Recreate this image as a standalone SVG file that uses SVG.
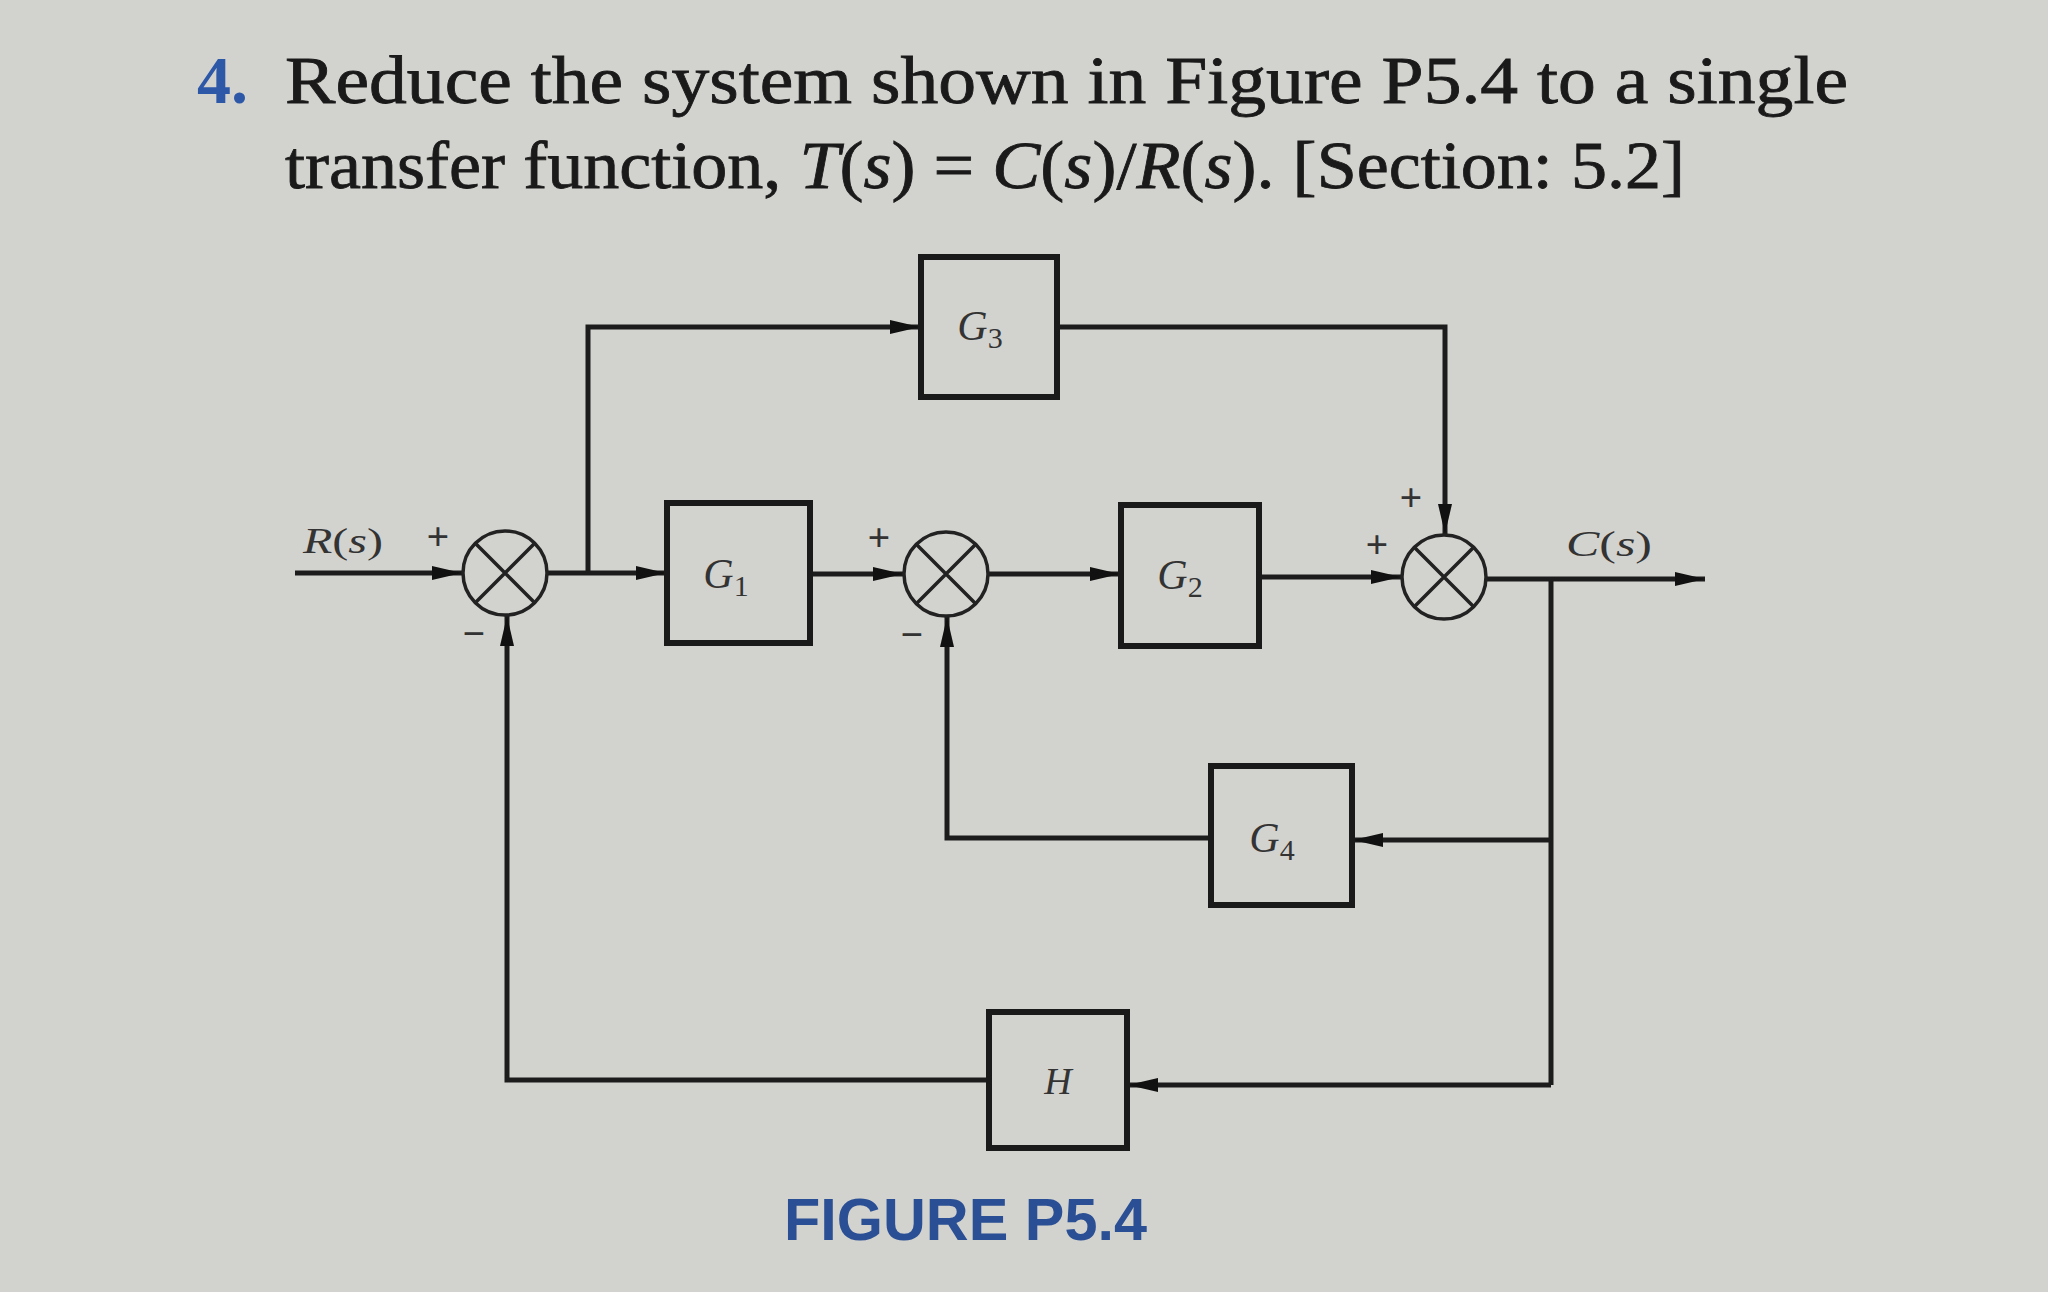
<svg xmlns="http://www.w3.org/2000/svg" width="2048" height="1292" viewBox="0 0 2048 1292">
  <style>
    .wire { fill: none; stroke: #1c1c1c; stroke-width: 5; }
    .box { fill: none; stroke: #1a1a1a; stroke-width: 6; }
    .sum { fill: none; stroke: #222; stroke-width: 3.5; }
    .title { font-family: "Liberation Serif", "Times New Roman", serif; font-size: 68px; fill: #1a1a1a; stroke: #1a1a1a; stroke-width: 0.8; }
    .lbl { font-family: "Liberation Serif", "Times New Roman", serif; font-style: italic; font-size: 42px; fill: #333; }
    .sub { font-style: normal; font-size: 30px; }
    .sig { font-family: "Liberation Serif", "Times New Roman", serif; font-size: 36px; fill: #333; }
    .sign { font-family: "Liberation Serif", "Times New Roman", serif; font-size: 40px; font-weight: bold; fill: #333; }
    .it { font-style: italic; }
  </style>
  <defs>
    <marker id="arr" viewBox="0 0 30 16" refX="30" refY="8" markerWidth="30" markerHeight="16" markerUnits="userSpaceOnUse" orient="auto">
      <path d="M0,1 L30,8 L0,15 Z" fill="#111"/>
    </marker>
  </defs>
  <rect x="0" y="0" width="2048" height="1292" fill="#d2d2ce"/>

  <g id="title">
    <text x="197" y="103" class="title" style="font-weight:bold;fill:#2d58a8;stroke:none">4.</text>
    <text x="285" y="103" class="title" textLength="1563" lengthAdjust="spacingAndGlyphs">Reduce the system shown in Figure P5.4 to a single</text>
    <text x="285" y="188" class="title" textLength="1400" lengthAdjust="spacingAndGlyphs">transfer function, <tspan class="it">T</tspan>(<tspan class="it">s</tspan>) = <tspan class="it">C</tspan>(<tspan class="it">s</tspan>)/<tspan class="it">R</tspan>(<tspan class="it">s</tspan>). [Section: 5.2]</text>
  </g>

  <g id="connectors">
    <path class="wire" d="M295,573 L462,573" marker-end="url(#arr)"/>
    <path class="wire" d="M547,573 L666,573" marker-end="url(#arr)"/>
    <path class="wire" d="M588,573 L588,327 L920,327" marker-end="url(#arr)"/>
    <path class="wire" d="M1057,327 L1445,327 L1445,534" marker-end="url(#arr)"/>
    <path class="wire" d="M810,574 L903,574" marker-end="url(#arr)"/>
    <path class="wire" d="M988,574 L1120,574" marker-end="url(#arr)"/>
    <path class="wire" d="M1259,577 L1401,577" marker-end="url(#arr)"/>
    <path class="wire" d="M1486,579 L1705,579" marker-end="url(#arr)"/>
    <path class="wire" d="M1551,579 L1551,1085"/>
    <path class="wire" d="M1551,840 L1353,840" marker-end="url(#arr)"/>
    <path class="wire" d="M1211,838 L947,838 L947,617" marker-end="url(#arr)"/>
    <path class="wire" d="M1551,1085 L1128,1085" marker-end="url(#arr)"/>
    <path class="wire" d="M989,1080 L507,1080 L507,616" marker-end="url(#arr)"/>
  </g>

  <g id="sum1">
    <circle class="sum" cx="505" cy="573" r="42"/>
    <path class="sum" d="M475.3,543.3 L534.7,602.7 M534.7,543.3 L475.3,602.7"/>
    <text class="sign" x="438" y="550" text-anchor="middle">+</text>
    <text class="sign" x="474" y="647" text-anchor="middle">−</text>
  </g>
  <g id="sum2">
    <circle class="sum" cx="946" cy="574" r="42"/>
    <path class="sum" d="M916.3,544.3 L975.7,603.7 M975.7,544.3 L916.3,603.7"/>
    <text class="sign" x="879" y="551" text-anchor="middle">+</text>
    <text class="sign" x="912" y="648" text-anchor="middle">−</text>
  </g>
  <g id="sum3">
    <circle class="sum" cx="1444" cy="577" r="42"/>
    <path class="sum" d="M1414.3,547.3 L1473.7,606.7 M1473.7,547.3 L1414.3,606.7"/>
    <text class="sign" x="1377" y="558" text-anchor="middle">+</text>
    <text class="sign" x="1411" y="511" text-anchor="middle">+</text>
  </g>

  <g id="G1">
    <rect class="box" x="667" y="503" width="143" height="140"/>
    <text class="lbl" x="726" y="588" text-anchor="middle">G<tspan class="sub" dy="8">1</tspan></text>
  </g>
  <g id="G2">
    <rect class="box" x="1121" y="505" width="138" height="141"/>
    <text class="lbl" x="1180" y="589" text-anchor="middle">G<tspan class="sub" dy="8">2</tspan></text>
  </g>
  <g id="G3">
    <rect class="box" x="921" y="257" width="136" height="140"/>
    <text class="lbl" x="980" y="340" text-anchor="middle">G<tspan class="sub" dy="8">3</tspan></text>
  </g>
  <g id="G4">
    <rect class="box" x="1211" y="766" width="141" height="139"/>
    <text class="lbl" x="1272" y="852" text-anchor="middle">G<tspan class="sub" dy="8">4</tspan></text>
  </g>
  <g id="H">
    <rect class="box" x="989" y="1012" width="138" height="136"/>
    <text class="lbl" x="1058" y="1094" text-anchor="middle" style="font-size:38px">H</text>
  </g>

  <g id="labels">
    <text class="sig" x="303" y="553" textLength="80" lengthAdjust="spacingAndGlyphs"><tspan class="it">R</tspan>(<tspan class="it">s</tspan>)</text>
    <text class="sig" x="1566" y="556" textLength="86" lengthAdjust="spacingAndGlyphs"><tspan class="it">C</tspan>(<tspan class="it">s</tspan>)</text>
    <text x="784" y="1240" textLength="363" lengthAdjust="spacingAndGlyphs" style="font-family:'Liberation Sans','Arial',sans-serif;font-weight:bold;font-size:60px;fill:#2b4f94">FIGURE P5.4</text>
  </g>
</svg>
